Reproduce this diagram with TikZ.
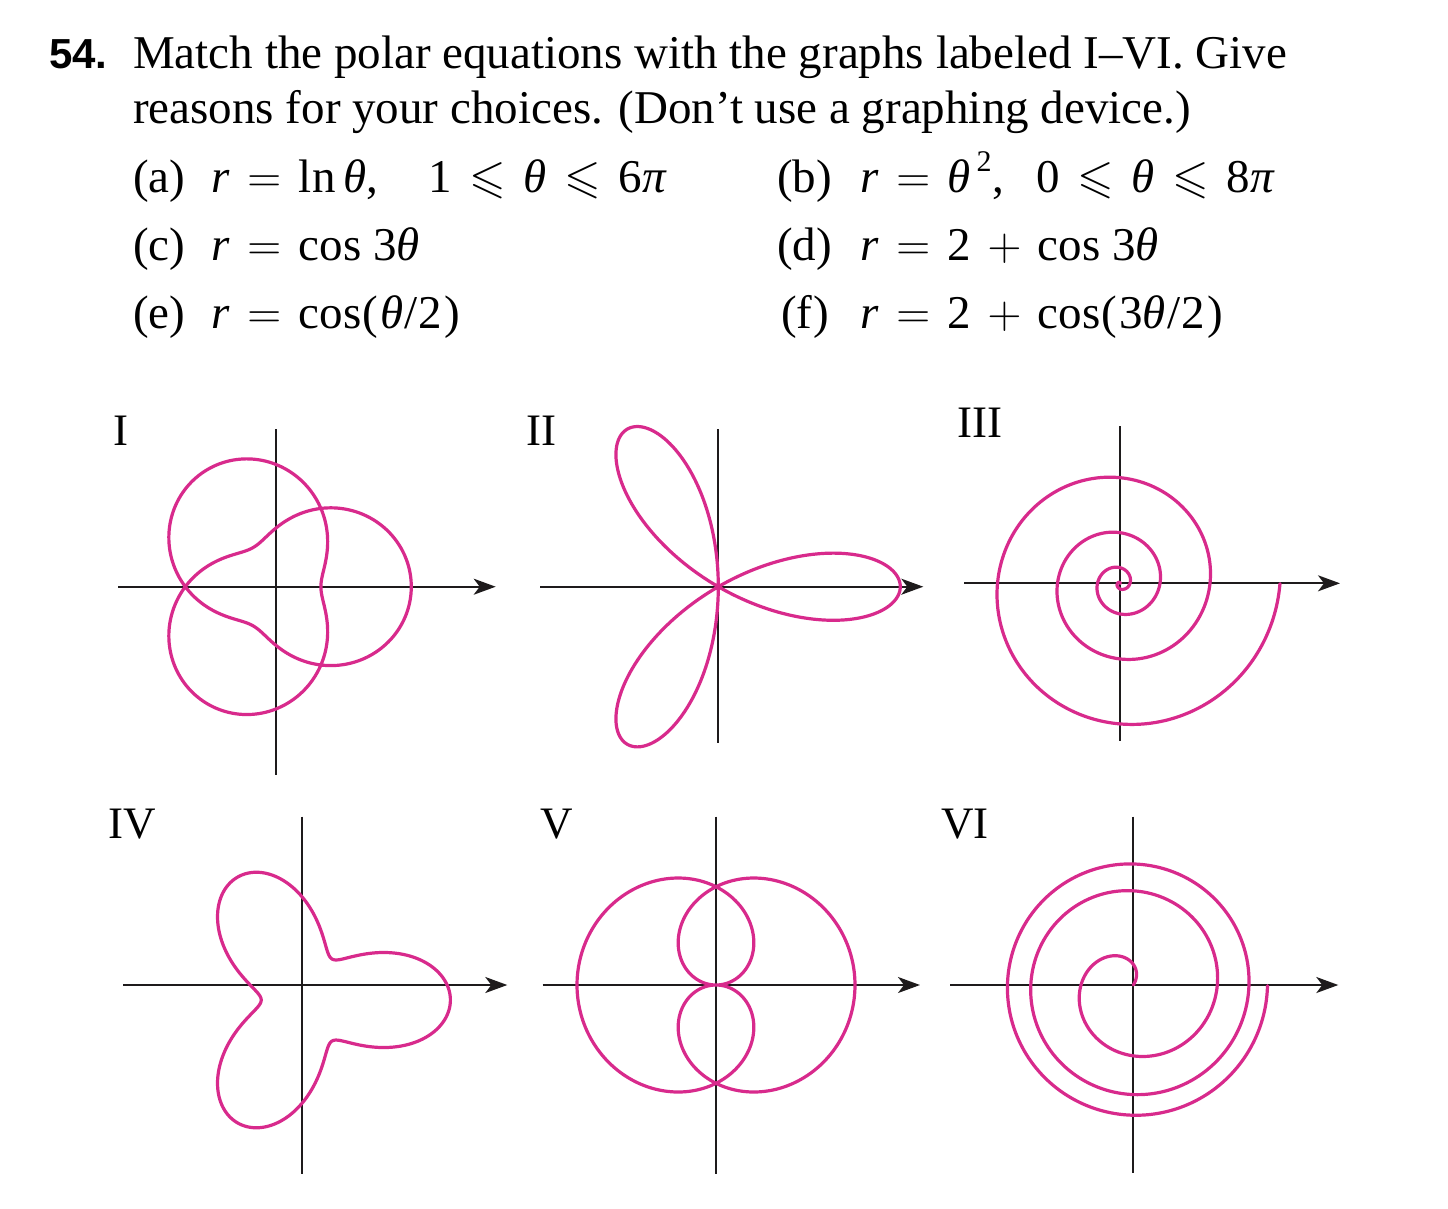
\RequirePackage{fix-cm}
\documentclass[tikz,border=0pt]{standalone}
\usepackage{amssymb}
\usepackage{fontspec}
\setmainfont{Liberation Serif}
\newfontfamily\numfont{Liberation Sans}
\usetikzlibrary{arrows.meta}
\definecolor{curvepink}{RGB}{216,42,140}
\definecolor{axisgray}{RGB}{30,27,28}
\newcommand{\mR}{\mbox{\textit{r}}}
\newcommand{\mT}{\mbox{\textit{θ}}}
\newcommand{\mPi}{\mbox{\textit{π}}}
\newcommand{\tx}[1]{\mbox{#1}}
\newcommand{\lp}{\mbox{\kern1pt(\kern2.5pt}}
\newcommand{\rp}{\mbox{\kern2.5pt)}}
\newcommand{\slsh}{\mbox{\kern1pt/\kern1pt}}
\tikzset{
  txt/.style={anchor=base west, inner sep=0pt, font=\fontsize{47}{56}\selectfont},
  roman/.style={anchor=base west, inner sep=0pt, font=\fontsize{45}{54}\selectfont},
  axis/.style={draw=axisgray, line width=2pt},
  axisarrow/.style={draw=axisgray, line width=2pt, -{Stealth[length=22pt,width=16pt,inset=6pt]}},
  curve/.style={draw=curvepink, line width=3.2pt, line join=round, line cap=round}
}
\begin{document}
\begin{tikzpicture}[x=1pt,y=-1pt]
\useasboundingbox[fill=white] (0,0) rectangle (1448,1208);

% ---------- text ----------
\node[txt, font=\fontsize{42}{50}\selectfont\numfont\bfseries] (num) at (49,68) {54.};
\node[txt] (l1) at (133,68) {Match the polar equations with the graphs labeled I–VI. Give};
\node[txt] (l2) at (133,123) {reasons for your choices. (Don’t use a graphing device.)};

\node[txt] (a) at (133,192) {(a)};
\node[txt] (aeq) at (211,192) {$\thickmuskip=6.8mu \mR = \tx{ln}\,\mT\tx{,}$};
\node[txt] (arng) at (428,192) {$\thickmuskip=6.8mu \tx{1} \leqslant \mT \leqslant \tx{6}\mPi$};

\node[txt] (b) at (777,192) {(b)};
\node[txt] (beq) at (860,192) {$\thickmuskip=6.8mu \mR = \mT^{\,\tx{\fontsize{30}{30}\selectfont 2}}\tx{,}$};
\node[txt] (brng) at (1036,192) {$\thickmuskip=6.8mu \tx{0} \leqslant \mT \leqslant \tx{8}\mPi$};

\node[txt] (c) at (133,260) {(c)};
\node[txt] (ceq) at (211,260) {$\thickmuskip=6.8mu \mR = \tx{cos 3}\mT$};

\node[txt] (d) at (777,260) {(d)};
\node[txt] (deq) at (860,260) {$\thickmuskip=6.8mu \medmuskip=6.2mu \mR = \tx{2} + \tx{cos 3}\mT$};

\node[txt] (e) at (133,328) {(e)};
\node[txt] (eeq) at (211,328) {$\thickmuskip=6.8mu \mR = \tx{cos}\lp\mT\slsh\tx{2}\rp$};

\node[txt] (f) at (781,328) {(f\kern1pt)};
\node[txt] (feq) at (860,328) {$\thickmuskip=6.8mu \medmuskip=6.2mu \mR = \tx{2} + \tx{cos}\lp\tx{3}\mT\slsh\tx{2}\rp$};

% ---------- labels ----------
\node[roman] (labI) at (113,445) {I};
\node[roman] (labII) at (526,445) {II};
\node[roman] (labIII) at (957,437) {III};
\node[roman] (labIV) at (108,838) {IV};
\node[roman] (labV) at (540,838) {V};
\node[roman] (labVI) at (941,838) {VI};

% ---------- axes ----------
\coordinate (Ixl) at (118,586.7); \coordinate (Ixr) at (495.7,586.7);
\coordinate (Iyt) at (275.7,429); \coordinate (Iyb) at (275.7,775);
\coordinate (IIxl) at (540,586.7); \coordinate (IIxr) at (923.3,586.7);
\coordinate (IIyt) at (718.3,429); \coordinate (IIyb) at (718.3,743.3);
\coordinate (IIIxl) at (964,583.3); \coordinate (IIIxr) at (1340,583.3);
\coordinate (IIIyt) at (1120,426); \coordinate (IIIyb) at (1120,740.7);
\coordinate (IVxl) at (123.3,985); \coordinate (IVxr) at (507.3,985);
\coordinate (IVyt) at (301.7,816.7); \coordinate (IVyb) at (301.7,1174);
\coordinate (Vxl) at (542.7,985); \coordinate (Vxr) at (920,985);
\coordinate (Vyt) at (716,816.7); \coordinate (Vyb) at (716,1174);
\coordinate (VIxl) at (950,985); \coordinate (VIxr) at (1338.3,985);
\coordinate (VIyt) at (1133.3,816.7); \coordinate (VIyb) at (1133.3,1173.3);

\foreach \g in {I,II,III,IV,V,VI}{
  \draw[axisarrow] (\g xl) -- (\g xr);
  \draw[axis] (\g yt) -- (\g yb);
}

% ---------- curves ----------
% I: r = 2 + cos(3theta/2)
\begin{scope}[shift={(275.7,586.7)}, yscale=-1]
\draw[curve] plot[domain=0:4*pi, samples=500, smooth]
  ({45.2*(2+cos(1.5*\x r))*cos(\x r)}, {45.2*(2+cos(1.5*\x r))*sin(\x r)});
\end{scope}
% II: r = cos 3theta
\begin{scope}[shift={(718.3,586.7)}, yscale=-1]
\draw[curve] plot[domain=0:pi, samples=400, smooth]
  ({182*cos(3*\x r)*cos(\x r)}, {182*cos(3*\x r)*sin(\x r)});
\end{scope}
% III: r = theta^2
\begin{scope}[shift={(1120,583.3)}, yscale=-1]
\draw[curve] plot[domain=0:8*pi, samples=900, smooth]
  ({0.2533*\x*\x*cos(\x r)}, {0.2533*\x*\x*sin(\x r)});
\end{scope}
% IV: r = 2 + cos 3theta
\begin{scope}[shift={(308.5,1000)}, yscale=-1]
\draw[curve] plot[domain=0:2*pi, samples=500, smooth]
  ({47.3*(2+cos(3*\x r))*cos(\x r)}, {47.3*(2+cos(3*\x r))*sin(\x r)});
\end{scope}
% V: r = cos(theta/2)
\begin{scope}[shift={(716,985)}, yscale=-1]
\draw[curve] plot[domain=0:4*pi, samples=500, smooth]
  ({139*cos(0.5*\x r)*cos(\x r)}, {139*cos(0.5*\x r)*sin(\x r)});
\end{scope}
% VI: r = ln theta
\begin{scope}[shift={(1133.3,985)}, yscale=-1]
\draw[curve] plot[domain=1:6*pi, samples=700, smooth]
  ({45.7*ln(\x)*cos(\x r)}, {45.7*ln(\x)*sin(\x r)});
\end{scope}
\end{tikzpicture}
\end{document}
